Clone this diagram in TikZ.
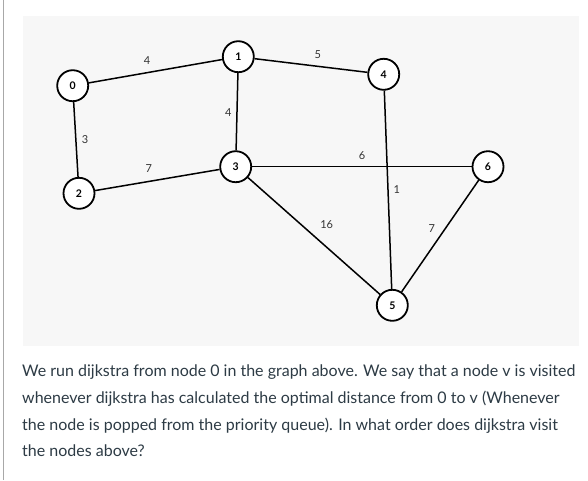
\documentclass[tikz,border=0pt]{standalone}
\usepackage{fontspec}
\setmainfont{Lato}
\definecolor{panel}{HTML}{F7F7F7}
\definecolor{border}{HTML}{A8A8A8}
\definecolor{lbl}{HTML}{333333}
\definecolor{body}{HTML}{2D3B45}
\begin{document}
\begin{tikzpicture}[x=1pt,y=-1pt,
  vert/.style={circle,draw=black,line width=1.8pt,fill=white,minimum size=31pt,inner sep=0pt,font=\fontsize{10.5}{12}\selectfont\bfseries},
  edge/.style={draw=black,line width=1.5pt},
  wt/.style={text=lbl,font=\fontsize{11}{12}\selectfont,inner sep=0pt},
  para/.style={anchor=base west,text=body,font=\fontsize{16}{20}\selectfont,inner sep=0pt}]
\useasboundingbox (0,0) rectangle (588,480);
\fill[white] (0,0) rectangle (588,480);
\fill[panel] (23,16) rectangle (579,346);
\draw[border,line width=1pt] (3,0) -- (3,480);

\node[vert] (n0) at (72.7,85.7) {0};
\node[vert] (n1) at (238.3,56.7) {1};
\node[vert] (n2) at (79,193.3) {2};
\node[vert] (n3) at (235.7,166.7) {3};
\node[vert] (n4) at (383.7,74.3) {4};
\node[vert] (n5) at (392.3,305.3) {5};
\node[vert] (n6) at (488,166.7) {6};

\draw[edge] (n0) -- (n1);
\draw[edge] (n0) -- (n2);
\draw[edge] (n1) -- (n3);
\draw[edge] (n2) -- (n3);
\draw[edge] (n1) -- (n4);
\draw[edge] (n3) -- (n6);
\draw[edge] (n4) -- (n5);
\draw[edge] (n3) -- (n5);
\draw[edge] (n6) -- (n5);

\node[wt] (w01) at (147,60.7) {4};
\node[wt] (w13) at (228.3,112.3) {4};
\node[wt] (w02) at (85,140) {3};
\node[wt] (w23) at (148.7,168.7) {7};
\node[wt] (w14) at (317.7,55) {5};
\node[wt] (w36) at (362,155.7) {6};
\node[wt] (w45) at (396.7,189.3) {1};
\node[wt] (w35) at (326.7,225) {16};
\node[wt] (w56) at (431.7,228.3) {7};

\node[para] (t1) at (22,376.7) {We run dijkstra from node 0 in the graph above. We say that a node v is visited};
\node[para] (t2) at (22,403.3) {whenever dijkstra has calculated the optimal distance from 0 to v (Whenever};
\node[para] (t3) at (22,430) {the node is popped from the priority queue). In what order does dijkstra visit};
\node[para] (t4) at (22,456.7) {the nodes above?};
\end{tikzpicture}
\end{document}
